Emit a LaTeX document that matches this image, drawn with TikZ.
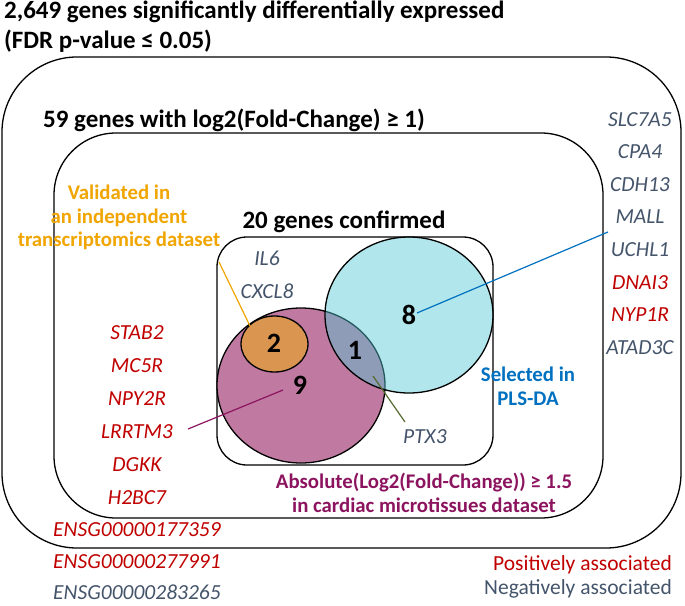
\documentclass[tikz,border=0pt]{standalone}
\usepackage{fontspec}
\setmainfont{Carlito}
\usetikzlibrary{shapes.geometric}
\definecolor{posred}{RGB}{192,0,0}
\definecolor{neggrey}{RGB}{68,84,106}
\definecolor{goldtxt}{RGB}{240,165,0}
\definecolor{bluetxt}{RGB}{0,112,192}
\definecolor{magtxt}{RGB}{140,20,95}
\definecolor{magfill}{RGB}{192,122,162}
\definecolor{orfill}{RGB}{218,150,80}
\definecolor{cyfill}{RGB}{82,199,212}
\definecolor{olive}{RGB}{85,107,47}
\begin{document}
\begin{tikzpicture}[x=1pt,y=-1pt,
  box/.style={draw=black, line width=1.3pt, inner sep=0pt},
  venn/.style={ellipse, draw=black, line width=1.3pt, inner sep=0pt},
  txt/.style={inner sep=0pt, anchor=base},
  titletxt/.style={txt, font=\fontsize{25}{30}\selectfont\bfseries},
  labeltxt/.style={txt, font=\fontsize{20.8}{24}\selectfont\bfseries},
  numtxt/.style={txt, font=\fontsize{28}{32}\selectfont\bfseries},
  genetxt/.style={txt, font=\fontsize{21.5}{26}\selectfont\itshape},
  posgene/.style={genetxt, text=posred},
  neggene/.style={genetxt, text=neggrey},
  legtxt/.style={inner sep=0pt, anchor=base east, font=\fontsize{21.5}{26}\selectfont},
  conn/.style={line width=1.2pt}
]
\useasboundingbox (0,0) rectangle (685,605);

% boxes
\node[box, rounded corners=75pt, minimum width=679pt, minimum height=491pt] (outer) at (341.5,302.5) {};
\node[box, rounded corners=62pt, minimum width=549pt, minimum height=385pt] (middle) at (328.5,325.5) {};
\node[box, rounded corners=30pt, minimum width=276pt, minimum height=228pt] (inner) at (355,351) {};

% venn sets
\node[venn, fill=magfill, minimum width=168pt, minimum height=155pt] (mag) at (301,385.5) {};
\node[venn, fill=orfill, minimum width=67pt, minimum height=56pt] (orc) at (274.5,344) {};
\node[venn, fill=cyfill, fill opacity=0.45, minimum width=168pt, minimum height=156pt] (cyan) at (409,315) {};

% titles
\node[titletxt, anchor=base west] (t1) at (4,18.5) {2,649 genes significantly differentially expressed};
\node[titletxt, anchor=base west] (t2) at (4,48) {(FDR p-value ≤ 0.05)};
\node[titletxt, anchor=base west] (t3) at (43,127.5) {59 genes with log2(Fold-Change) ≥ 1)};
\node[titletxt] (t4) at (344,228) {20 genes confirmed};

% coloured labels
\node[labeltxt, text=goldtxt] (v1) at (119,199.5) {Validated in};
\node[labeltxt, text=goldtxt] (v2) at (119,223) {an independent};
\node[labeltxt, text=goldtxt] (v3) at (119,246) {transcriptomics dataset};
\node[labeltxt, text=bluetxt] (s1) at (528,381) {Selected in};
\node[labeltxt, text=bluetxt] (s2) at (528,405) {PLS-DA};
\node[labeltxt, text=magtxt] (a1) at (424,488) {Absolute(Log2(Fold-Change)) ≥ 1.5};
\node[labeltxt, text=magtxt] (a2) at (424,512) {in cardiac microtissues dataset};

% numbers
\node[numtxt] (n8) at (409,324) {8};
\node[numtxt] (n2) at (274,352) {2};
\node[numtxt] (n1) at (355,359) {1};
\node[numtxt] (n9) at (300,394) {9};

% genes inside
\node[neggene] (il6) at (267,265) {IL6};
\node[neggene] (cxcl8) at (267,298) {CXCL8};
\node[neggene] (ptx3) at (425,443) {PTX3};

% left genes
\node[posgene] (g1) at (137,339) {STAB2};
\node[posgene] (g2) at (137,372) {MC5R};
\node[posgene] (g3) at (137,405) {NPY2R};
\node[posgene] (g4) at (137,438) {LRRTM3};
\node[posgene] (g5) at (137,471) {DGKK};
\node[posgene] (g6) at (137,504) {H2BC7};
\node[posgene] (g7) at (137,536.5) {ENSG00000177359};
\node[posgene] (g8) at (137,568.5) {ENSG00000277991};
\node[neggene] (g9) at (137,599.5) {ENSG00000283265};

% right genes
\node[neggene] (r1) at (640,126) {SLC7A5};
\node[neggene] (r2) at (640,158.6) {CPA4};
\node[neggene] (r3) at (640,191.2) {CDH13};
\node[neggene] (r4) at (640,223.8) {MALL};
\node[neggene] (r5) at (640,256.4) {UCHL1};
\node[posgene] (r6) at (640,289) {DNAI3};
\node[posgene] (r7) at (640,321.6) {NYP1R};
\node[neggene] (r8) at (640,354.2) {ATAD3C};

% legend
\node[legtxt, text=posred] (lp) at (672,570) {Positively associated};
\node[legtxt, text=neggrey] (ln) at (672,594) {Negatively associated};

% connectors
\coordinate (oa) at (219,262);
\coordinate (ob) at (250,326);
\draw[conn, draw=goldtxt] (oa) -- (ob);
\coordinate (ba) at (417,313);
\coordinate (bb) at (608,232);
\draw[conn, draw=bluetxt] (ba) -- (bb);
\coordinate (ma) at (188,429);
\coordinate (mb) at (283,390);
\draw[conn, draw=magtxt] (ma) -- (mb);
\coordinate (pa) at (373,376);
\coordinate (pb) at (405,422);
\draw[conn, draw=olive] (pa) -- (pb);
\end{tikzpicture}
\end{document}
